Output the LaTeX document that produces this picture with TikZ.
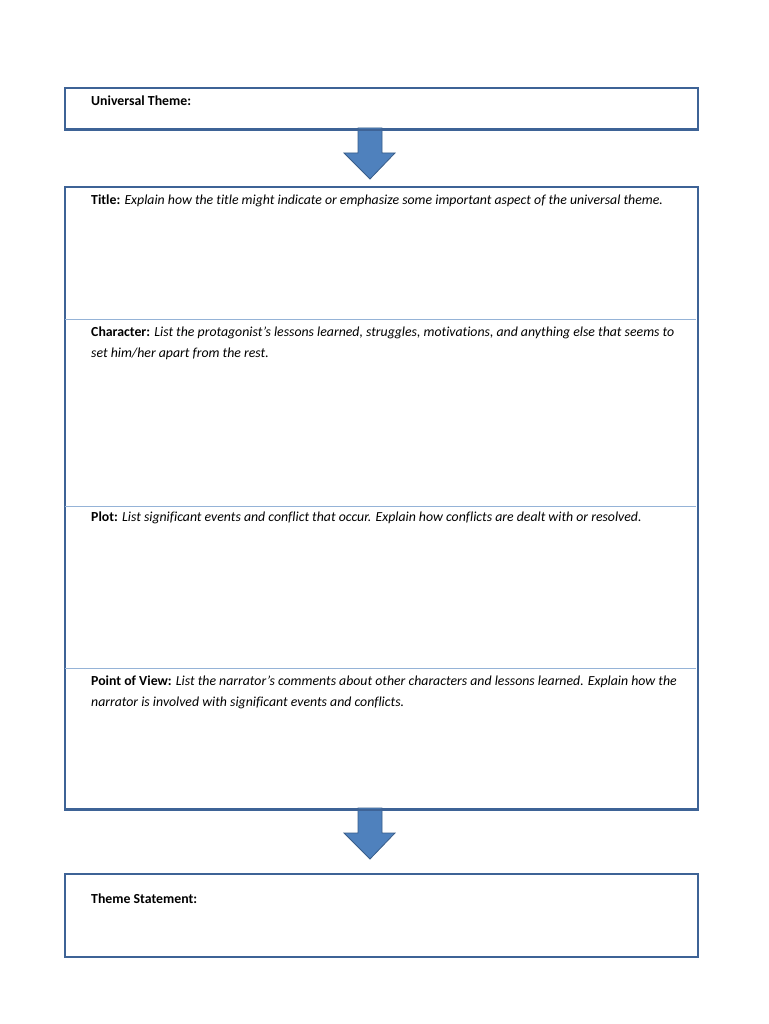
\documentclass[tikz,border=0pt]{standalone}
\usepackage{fontspec}
\setmainfont[RawFeature=-liga]{Carlito}
\definecolor{boxblue}{HTML}{3E6396}
\definecolor{divblue}{HTML}{95B3D7}
\definecolor{arrfill}{HTML}{4F81BD}
\definecolor{arredge}{HTML}{385D8A}
\begin{document}
\begin{tikzpicture}[x=1pt,y=-1pt,
  box/.style={draw=boxblue,line width=2pt,fill=white,inner sep=0pt,anchor=north west},
  divline/.style={draw=divblue,line width=1pt},
  lbl/.style={anchor=base west,inner sep=0pt,font=\fontsize{13.8}{21}\selectfont,align=left},
  blockarrow/.style={fill=arrfill,draw=arredge,line width=0.8pt,line join=miter}]
\useasboundingbox (0,0) rectangle (768,1024);
\fill[white] (0,0) rectangle (768,1024);
% top box
\node[box,minimum width=633pt,minimum height=41pt] (ut) at (64,87) {};
\node[lbl] (utl) at (91,106) {\textbf{Universal Theme:}};
% big box
\node[box,minimum width=633pt,minimum height=622pt] (big) at (64,186) {};
\coordinate (d1l) at (65,319); \coordinate (d1r) at (696,319);
\coordinate (d2l) at (65,506); \coordinate (d2r) at (696,506);
\coordinate (d3l) at (65,668); \coordinate (d3r) at (696,668);
\draw[divline] (d1l) -- (d1r);
\draw[divline] (d2l) -- (d2r);
\draw[divline] (d3l) -- (d3r);
\node[lbl] (tl) at (91,205) {\textbf{Title:} \textit{Explain how the title might indicate or emphasize some important aspect of the universal theme.}};
\node[lbl] (cl) at (91,357) {\textbf{Character:} \textit{List the protagonist’s lessons learned, struggles, motivations, and anything else that seems to}\\\textit{set him/her apart from the rest.}};
\node[lbl] (pl) at (91,521) {\textbf{Plot:} \textit{List significant events and conflict that occur. Explain how conflicts are dealt with or resolved.}};
\node[lbl] (vl) at (91,706) {\textbf{Point of View:} \textit{List the narrator’s comments about other characters and lessons learned. Explain how the}\\\textit{narrator is involved with significant events and conflicts.}};
% bottom box
\node[box,minimum width=633pt,minimum height=83pt] (ts) at (64,873) {};
\node[lbl] (tsl) at (91,903) {\textbf{Theme Statement:}};
% block arrows
\draw[blockarrow] (358,128) -- (382,128) -- (382,153) -- (395,153) -- (370,179) -- (344,153) -- (358,153) -- cycle;
\draw[blockarrow] (358,808) -- (382,808) -- (382,833) -- (395,833) -- (370,859) -- (344,833) -- (358,833) -- cycle;
\draw[boxblue,line width=2pt] (ut.south west) -- (ut.south east);
\draw[boxblue,line width=2pt] (big.south west) -- (big.south east);
\end{tikzpicture}
\end{document}
